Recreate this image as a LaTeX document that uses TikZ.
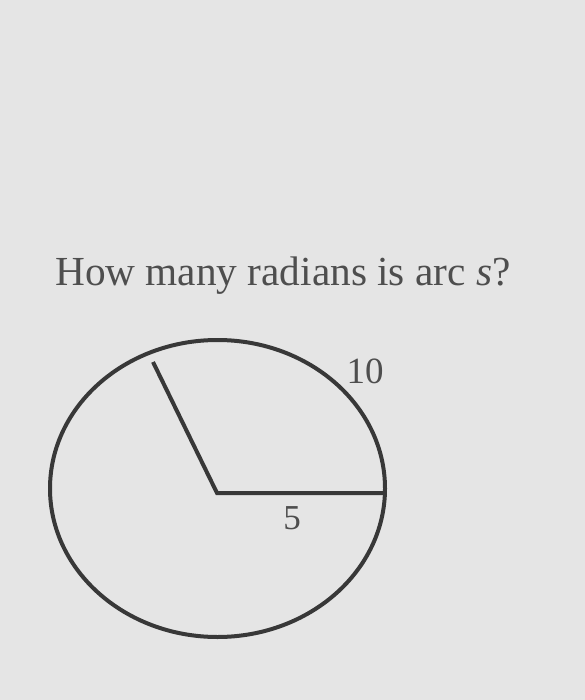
\documentclass[tikz,border=0pt]{standalone}
\usepackage{fontspec}
\setmainfont{Liberation Serif}
\usetikzlibrary{calc}

\definecolor{paper}{HTML}{E5E5E5}
\definecolor{ink}{HTML}{383838}
\definecolor{print}{HTML}{4E4E4E}

\begin{document}
\begin{tikzpicture}[x=1pt,y=-1pt]

% Background (photo of the page)
\fill[paper] (0,0) rectangle (585,700);
\useasboundingbox (0,0) rectangle (585,700);

% Question
\node[text=print, anchor=base west, inner sep=0pt] (Q) at (55,285)
  {\fontsize{41.3}{44}\selectfont How many radians is arc \textit{s}?};

% Define points
\coordinate (O) at (217,493);
\coordinate (P) at (385,493);
\coordinate (R) at (153,362);

% Draw circle
\draw[ink, line width=4pt] (217.5,488.5) ellipse[x radius=167.5, y radius=148.5];

% Draw radii
\draw[ink, line width=4pt, line join=miter] (R) -- (O) -- (P);

% Labels
\node[text=print] (L10) at (365,371) {\fontsize{37}{38}\selectfont 10};
\node[text=print] (L5) at (292,518) {\fontsize{35}{36}\selectfont 5};

\end{tikzpicture}
\end{document}
